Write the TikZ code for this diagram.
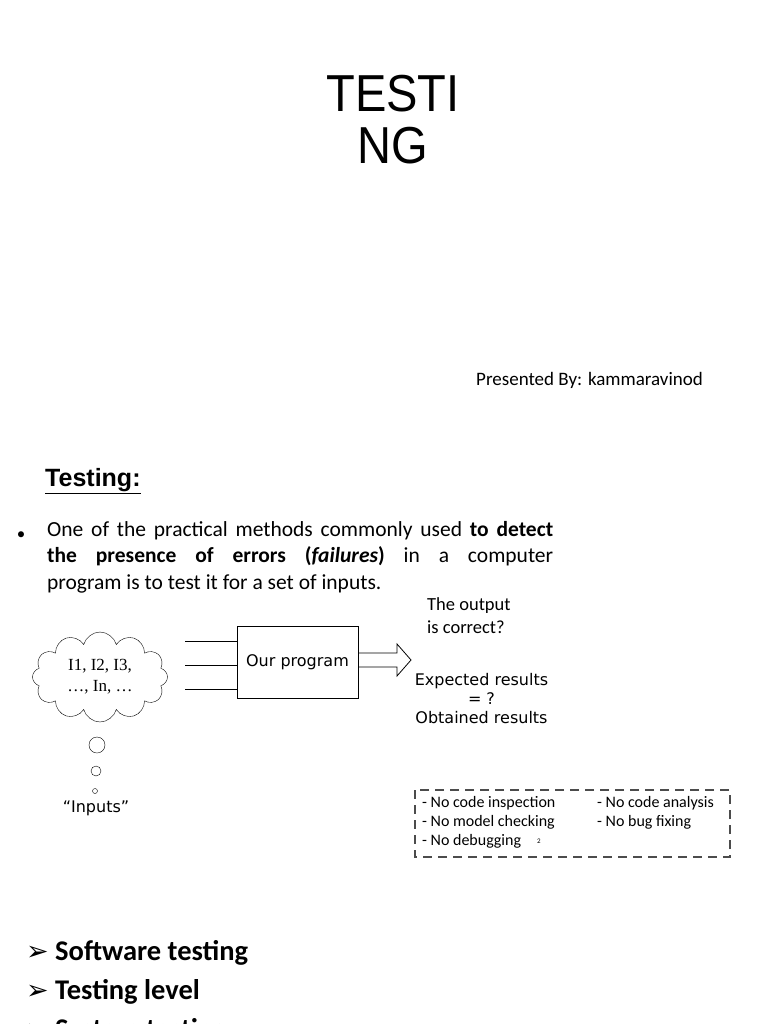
\documentclass[tikz,border=0pt]{standalone}
\usepackage{fontspec}
\setmainfont{Carlito}
\newfontfamily\titlefont{Liberation Sans}
\newfontfamily\diafont{DejaVu Sans}
\newfontfamily\cloudfont{Liberation Serif}
\usetikzlibrary{shapes.symbols,positioning}

\begin{document}
\begin{tikzpicture}[x=1pt,y=-1pt,
  every node/.style={inner sep=0pt},
  diatext/.style={font=\diafont\fontsize{16}{19}\selectfont,align=center},
  notetext/.style={font=\fontsize{16}{19}\selectfont,anchor=west},
  listarrow/.style={font=\diafont\fontsize{27}{27}\selectfont,anchor=west},
  listtext/.style={font=\bfseries\fontsize{28.5}{28.5}\selectfont,anchor=west},
  feed/.style={line width=0.8pt},
  notebox/.style={draw=black!70,line width=2.5pt,dash pattern=on 9pt off 6pt}]
  \useasboundingbox (0,0) rectangle (768,1024);
  % title and author
  \node[font=\titlefont\fontsize{52}{52}\selectfont,align=center,xscale=0.905,transform shape] (title) at (393,120) {TESTI\\NG};
  \node[font=\fontsize{19}{19}\selectfont,anchor=west] (author) at (476,380) {Presented By: kammaravinod};
  % heading and paragraph
  \node[font=\titlefont\bfseries\fontsize{25}{25}\selectfont,anchor=west] (heading) at (45,481) {\underline{Testing:}};
  \node[font=\fontsize{17}{17}\selectfont] (dot) at (21,536) {•};
  \node[font=\fontsize{21.5}{26.5}\selectfont,text width=506pt,align=justify,anchor=north west] (para) at (47,521)
    {One of the practical methods commonly used \textbf{to detect}\linebreak \textbf{the presence of errors (\textit{failures})} in a computer\linebreak program is to test it for a set of inputs.};
  % inputs cloud
  \node[cloud,draw,cloud puffs=12,aspect=1.5,minimum width=135pt,minimum height=90pt,
        font=\cloudfont\fontsize{17}{21}\selectfont,align=center] (cloud) at (100,677) {I1, I2, I3,\\\dots, In, \dots};
  \draw (97,745) circle[radius=8pt];
  \draw (96,771) circle[radius=5pt];
  \draw (95,791) circle[radius=2.5pt];
  \node[diatext] (inputs) at (96,808) {“Inputs”};
  % program box
  \node[draw,feed,diatext,minimum width=121pt,minimum height=72pt] (prog) at (297.5,662.5) {Our program};
  \foreach \i/\y in {1/641,2/665,3/689}{
    \coordinate (in\i) at (185,\y);
    \draw[feed] (in\i) -- (in\i -| prog.west);
  }
  \draw[feed] (prog.east |- 0,653) -- (397,653) -- (397,644) -- (411,660) -- (397,676) -- (397,667) -- (prog.east |- 0,667);
  % results
  \node[font=\fontsize{18.5}{23}\selectfont,align=left,anchor=north west] (out) at (427,597) {The output\\is correct?};
  \node[diatext] (res) at (481.5,699) {Expected results\\= ?\\Obtained results};
  % notes box
  \draw[notebox] (415,790) rectangle (730,857);
  \node[notetext] (n1) at (422,803) {- No code inspection};
  \node[notetext] (n2) at (422,822) {- No model checking};
  \node[notetext] (n3) at (422,841) {- No debugging};
  \node[font=\fontsize{7}{7}\selectfont] (pg) at (539,841) {2};
  \node[notetext] (n4) at (597,803) {- No code analysis};
  \node[notetext] (n5) at (597,822) {- No bug fixing};
  % list
  \foreach \y/\t in {953/Software testing,992/Testing level,1031/System testing}{
    \node[listarrow] at (26,\y) {➢};
    \node[listtext] at (55,\y) {\t};
  }
\end{tikzpicture}
\end{document}
